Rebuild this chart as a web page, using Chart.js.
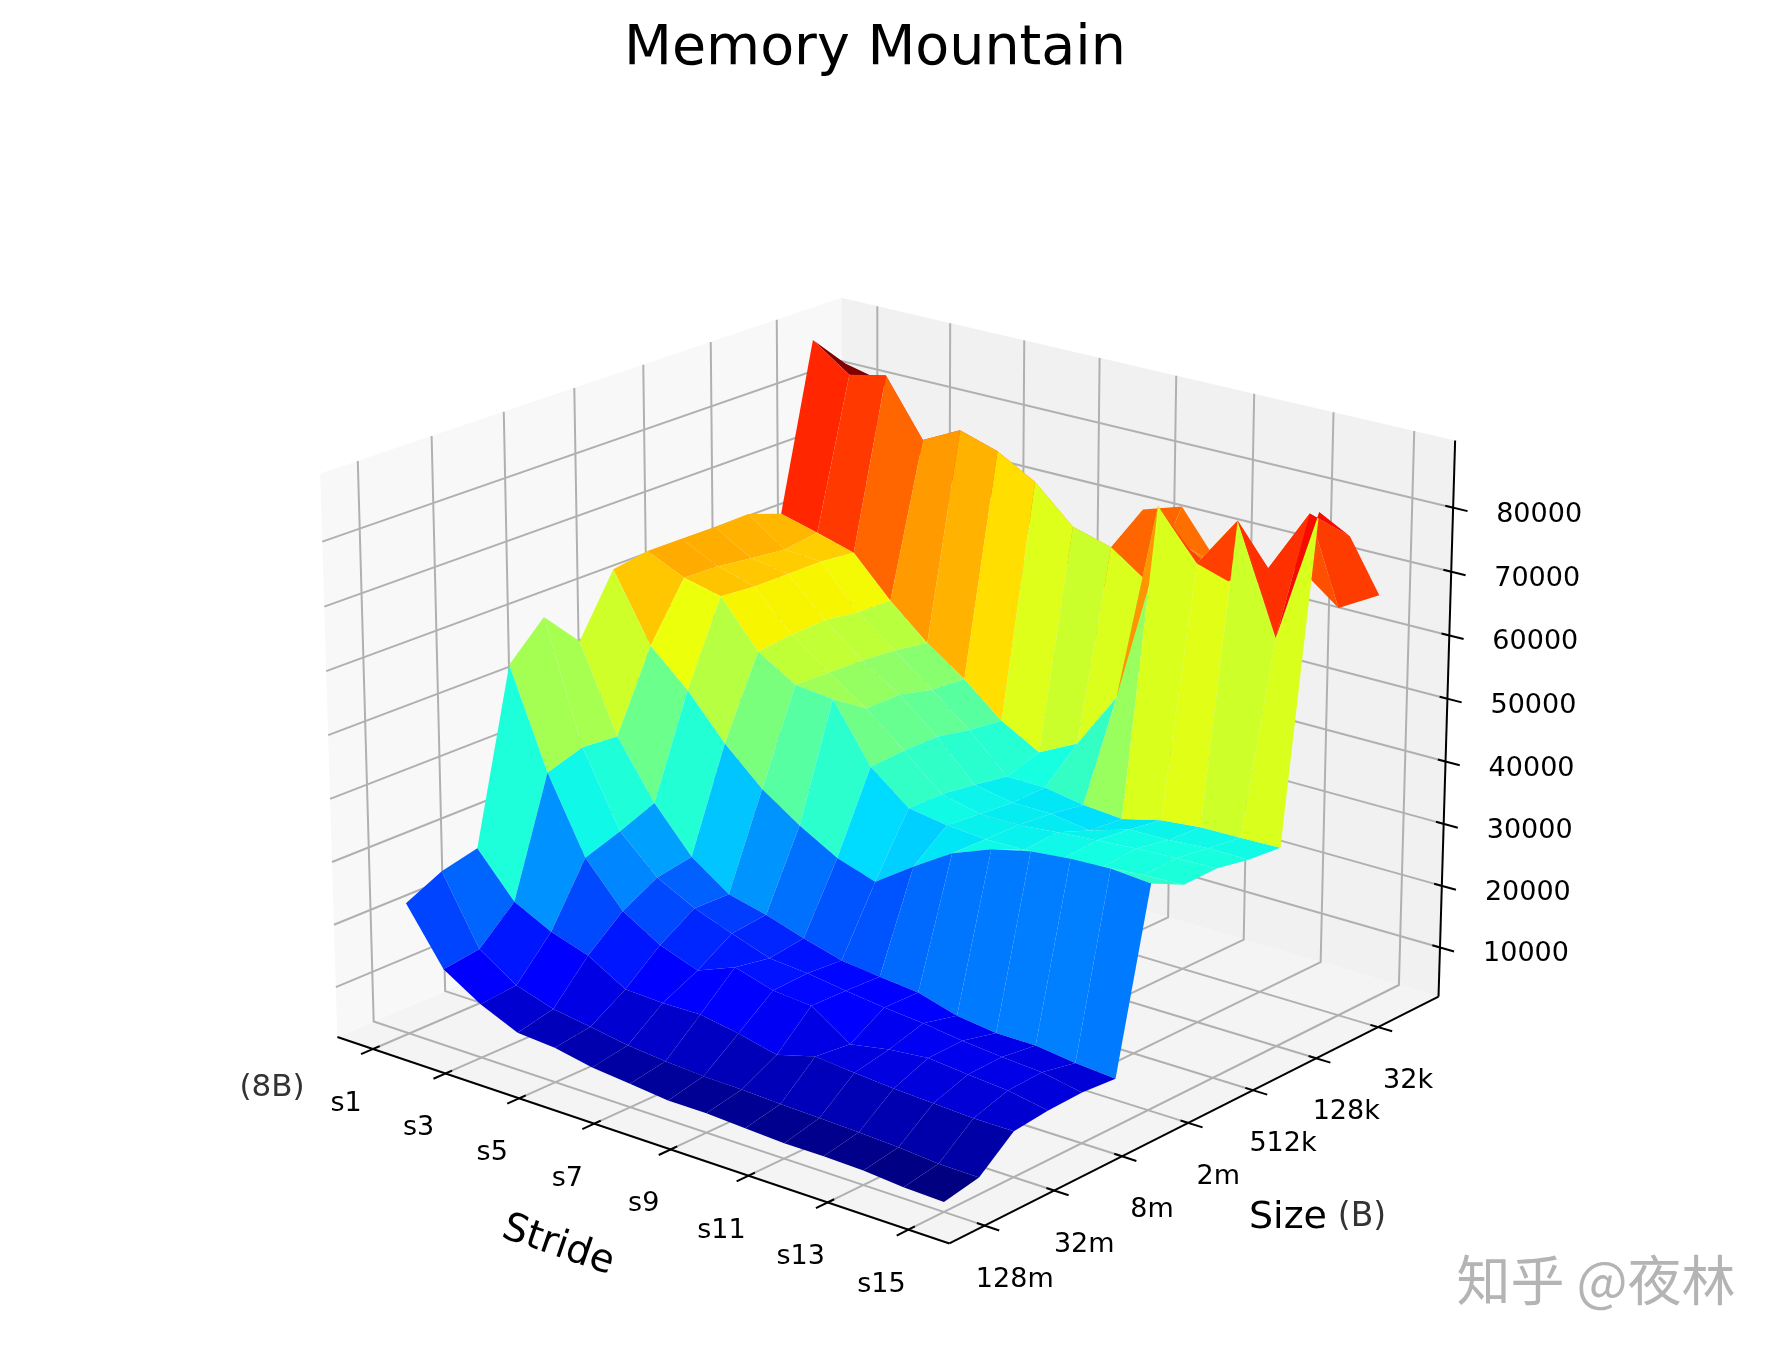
<!DOCTYPE html>
<html lang="en">

<head>
    <meta charset="UTF-8">
    <title>Memory Mountain</title>
    <style>
        html, body { margin: 0; background: #fff; }
        canvas { display: block; }
    </style>
    <script src="https://cdn.jsdelivr.net/npm/chart.js"></script>
</head>

<body>
    <canvas id="myChart" width="1780" height="1352"></canvas>

    <script>
        const strides = ['s1', 's2', 's3', 's4', 's5', 's6', 's7', 's8', 's9', 's10', 's11', 's12', 's13', 's14', 's15'];
        const sizes = ['128m', '64m', '32m', '16m', '8m', '4m', '2m', '1m', '512k', '256k', '128k', '64k', '32k', '16k'];
        const heightTicks = [10000, 20000, 30000, 40000, 50000, 60000, 70000, 80000];

        // read throughput per size, one value per stride
        const z128m = [22890, 14200, 10500, 7880, 7440, 6270, 5670, 5020, 5020, 4660, 4370, 4370, 4220, 3700, 3500];
        const z64m = [25650, 15020, 11100, 9200, 8290, 7280, 6680, 6270, 6180, 5880, 5670, 5470, 5170, 4660, 4570];
        const z32m = [27030, 20220, 17230, 15320, 11800, 11500, 11600, 10500, 9090, 10790, 10190, 9690, 9390, 9090, 9090];
        const z16m = [54120, 38640, 26780, 20020, 16430, 14220, 16630, 14820, 14320, 10190, 11300, 11910, 11300, 10790, 9690];
        const z8m = [59580, 40460, 28690, 23060, 19940, 17730, 15620, 15120, 14220, 13510, 12910, 12110, 11500, 11100, 9900];
        const z4m = [53640, 40030, 30980, 24070, 19830, 18340, 16430, 14720, 14010, 13410, 11610, 10800, 10800, 10000, 9500];
        const z2m = [63070, 52410, 46930, 40040, 34460, 30380, 26950, 24960, 29200, 33100, 35500, 37000, 37600, 37900, 37400];
        const z1m = [63970, 61260, 59890, 52670, 48990, 48390, 39250, 34420, 33440, 32970, 33090, 33590, 34070, 34560, 34850];
        const z512k = [63970, 61060, 59390, 53220, 48800, 44670, 39650, 34330, 32940, 32940, 33590, 34070, 34560, 34850, 35050];
        const z256k = [63870, 60350, 59350, 53510, 48600, 44780, 39650, 33620, 32450, 32450, 31530, 33490, 33590, 34070, 34070];
        const z128k = [63970, 59750, 59350, 52710, 48100, 43370, 38540, 32720, 32650, 31570, 31080, 32650, 33340, 33440, 33640];
        const z64k = [62060, 60450, 58740, 52510, 47190, 42960, 37840, 34420, 37540, 46590, 78540, 71100, 79340, 62610, 83720];
        const z32k = [88490, 84260, 85580, 76630, 79650, 77740, 74320, 68690, 66980, 62660, 69900, 66290, 69900, 80000, 78000];
        const z16k = [82860, 81460, 70900, 67790, 66780, 64270, 59250, 56730, 71000, 73000, 65000, 64000, 68000, 63200, 66800];
        const rows = [z128m, z64m, z32m, z16m, z8m, z4m, z2m, z1m, z512k, z256k, z128k, z64k, z32k, z16k];

        // view of the box, same idea as mplot3d
        const ELEV = 20 * Math.PI / 180, AZIM = -50.5 * Math.PI / 180, DIST = 8.5, BOX_Z = 0.75;
        const Z_FLOOR = 1960, Z_TOP = 90400;
        const SCALE = 794, CX = 892, CY = 741, AREA_W = 1750, AREA_TOP = 82.6, AREA_BOTTOM = 1352;

        const right = [-Math.sin(AZIM), Math.cos(AZIM), 0];
        const eye = [Math.cos(ELEV) * Math.cos(AZIM), Math.cos(ELEV) * Math.sin(AZIM), Math.sin(ELEV)];
        const up = [-Math.sin(ELEV) * Math.cos(AZIM), -Math.sin(ELEV) * Math.sin(AZIM), Math.cos(ELEV)];
        const dot = (a, b) => a[0] * b[0] + a[1] * b[1] + a[2] * b[2];

        // box coordinates 0..1 -> values on the hidden x and y scales
        function project(u, v, w) {
            const p = [u - 0.5, v - 0.5, (w - 0.5) * BOX_Z];
            const depth = dot(p, eye);
            const f = 1 / (1 - depth / DIST);
            return { x: dot(p, right) * f, y: dot(p, up) * f, depth };
        }
        const uOf = i => (i + 1) / (strides.length + 1);
        const vOf = j => (j + 1) / (sizes.length + 1);
        const wOf = z => (z - Z_FLOOR) / (Z_TOP - Z_FLOOR);

        // matplotlib's jet
        const JET_R = [[0, 0], [0.35, 0], [0.66, 1], [0.89, 1], [1, 0.5]];
        const JET_G = [[0, 0], [0.125, 0], [0.375, 1], [0.64, 1], [0.91, 0], [1, 0]];
        const JET_B = [[0, 0.5], [0.11, 1], [0.34, 1], [0.65, 0], [1, 0]];
        function ramp(stops, t) {
            for (let k = 1; k < stops.length; k++) {
                if (t <= stops[k][0]) {
                    const [x0, y0] = stops[k - 1], [x1, y1] = stops[k];
                    return y0 + (y1 - y0) * (t - x0) / (x1 - x0);
                }
            }
            return stops[stops.length - 1][1];
        }
        function jet(t) {
            const c = s => Math.round(255 * ramp(s, t));
            return `rgb(${c(JET_R)},${c(JET_G)},${c(JET_B)})`;
        }

        function polyline(points, color, width) {
            return { data: points, showLine: true, fill: false, borderColor: color, borderWidth: width, pointRadius: 0, pointHoverRadius: 0 };
        }
        function polygon(points, color) {
            return { data: [...points, points[0]], showLine: true, fill: 'shape', backgroundColor: color, borderWidth: 0, pointRadius: 0, pointHoverRadius: 0 };
        }

        // surface cells, nearest first because chart.js paints dataset 0 on top
        const cells = [];
        for (let j = 0; j < rows.length - 1; j++) {
            for (let i = 0; i < strides.length - 1; i++) {
                const corners = [[i, j], [i + 1, j], [i + 1, j + 1], [i, j + 1]];
                const points = corners.map(([a, b]) => project(uOf(a), vOf(b), wOf(rows[b][a])));
                const mean = corners.reduce((s, [a, b]) => s + rows[b][a], 0) / 4;
                const depth = points.reduce((s, p) => s + p.depth, 0) / 4;
                cells.push({ points, mean, depth });
            }
        }
        const means = cells.map(c => c.mean);
        const lo = Math.min(...means), hi = Math.max(...means);
        cells.sort((a, b) => b.depth - a.depth);
        const surface = cells.map(c => polygon(c.points, jet((c.mean - lo) / (hi - lo))));

        const xTickIdx = strides.map((_, i) => i).filter(i => i % 2 == 0);
        const yTickIdx = sizes.map((_, j) => j).filter(j => j % 2 == 0 && j < 13);

        const GRID = '#b0b0b0', GW = 2;
        const grid = [];
        xTickIdx.forEach(i => grid.push(polyline([project(uOf(i), 0, 0), project(uOf(i), 1, 0), project(uOf(i), 1, 1)], GRID, GW)));
        yTickIdx.forEach(j => grid.push(polyline([project(1, vOf(j), 0), project(0, vOf(j), 0), project(0, vOf(j), 1)], GRID, GW)));
        heightTicks.forEach(z => grid.push(polyline([project(0, 0, wOf(z)), project(0, 1, wOf(z)), project(1, 1, wOf(z))], GRID, GW)));

        const axes = [
            polyline([project(0, 0, 0), project(1, 0, 0)], '#000', 2),
            polyline([project(1, 0, 0), project(1, 1, 0)], '#000', 2),
            polyline([project(1, 1, 0), project(1, 1, 1)], '#000', 2),
        ];
        xTickIdx.forEach(i => axes.push(polyline([project(uOf(i), -0.022, 0), project(uOf(i), 0.012, 0)], '#000', 2)));
        yTickIdx.forEach(j => axes.push(polyline([project(0.988, vOf(j), 0), project(1.022, vOf(j), 0)], '#000', 2)));
        heightTicks.forEach(z => axes.push(polyline([project(0.988, 1, wOf(z)), project(1.022, 1, wOf(z))], '#000', 2)));

        const panes = [
            polygon([project(0, 0, 0), project(0, 1, 0), project(0, 1, 1), project(0, 0, 1)], '#f8f8f8'),
            polygon([project(0, 1, 0), project(1, 1, 0), project(1, 1, 1), project(0, 1, 1)], '#f1f1f1'),
            polygon([project(0, 0, 0), project(1, 0, 0), project(1, 1, 0), project(0, 1, 0)], '#f4f4f4'),
        ];

        // tick labels and axis names, drawn on the chart's own scales
        const labelPlugin = {
            id: 'labels3d',
            afterDraw(chart) {
                const { ctx, scales: { x, y } } = chart;
                const at = p => [x.getPixelForValue(p.x), y.getPixelForValue(p.y)];
                const put = (text, px, py, font, color, angle) => {
                    ctx.save();
                    ctx.translate(px, py);
                    if (angle) ctx.rotate(angle);
                    ctx.font = font;
                    ctx.fillStyle = color;
                    ctx.textAlign = 'center';
                    ctx.textBaseline = 'middle';
                    ctx.fillText(text, 0, 0);
                    ctx.restore();
                };
                const tickFont = "27px 'DejaVu Sans'";
                xTickIdx.forEach(i => {
                    const [px, py] = at(project(uOf(i), 0, 0));
                    put(strides[i], px - 27, py + 55, tickFont, '#000');
                });
                yTickIdx.forEach(j => {
                    const [px, py] = at(project(1, vOf(j), 0));
                    put(sizes[j], px + 30, py + 54, tickFont, '#000');
                });
                heightTicks.forEach(z => {
                    const [px, py] = at(project(1, 1, wOf(z)));
                    put(String(z), px + 86, py + 7, tickFont, '#000');
                });
                put('Stride', 558, 1246, "39px 'DejaVu Sans'", '#000', 19 * Math.PI / 180);
                put('Size', 1288, 1218, "38px 'DejaVu Sans'", '#000');
                put('(B)', 1362, 1217, "33px 'Liberation Sans Narrow', 'DejaVu Sans'", '#333');
                put('(8B)', 272, 1088, "31px 'Liberation Sans Narrow', 'DejaVu Sans'", '#333');
                put('知乎 @夜林', 1596, 1280, "54px 'Noto Sans CJK SC'", '#b4b4b4');
            }
        };

        new Chart(document.getElementById('myChart'), {
            type: 'scatter',
            data: { datasets: [...surface, ...axes, ...grid, ...panes] },
            plugins: [labelPlugin],
            options: {
                responsive: false,
                animation: false,
                events: [],
                layout: { padding: { right: 1780 - AREA_W } },
                scales: {
                    x: { type: 'linear', display: false, min: -CX / SCALE, max: (AREA_W - CX) / SCALE },
                    y: { type: 'linear', display: false, min: -(AREA_BOTTOM - CY) / SCALE, max: (CY - AREA_TOP) / SCALE },
                },
                plugins: {
                    legend: { display: false },
                    tooltip: { enabled: false },
                    title: {
                        display: true,
                        text: 'Memory Mountain',
                        color: '#000',
                        font: { family: "'DejaVu Sans'", size: 55.5, weight: 'normal' },
                        padding: { top: 16, bottom: 0 },
                    },
                },
            },
        });
    </script>
</body>

</html>
